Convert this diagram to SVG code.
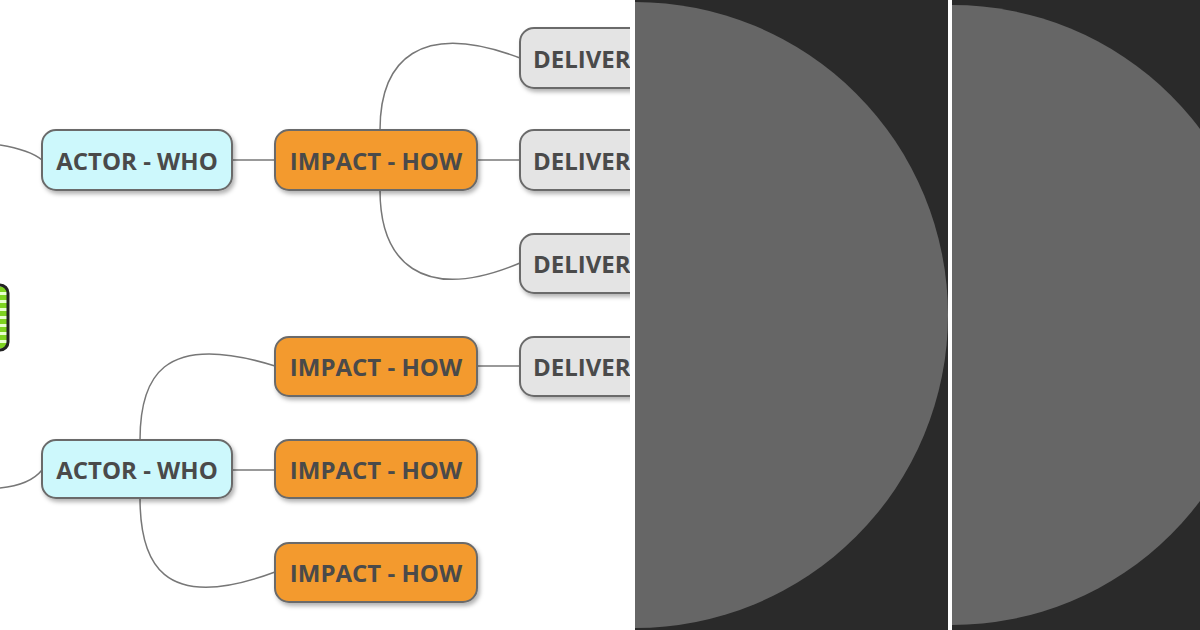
<svg xmlns="http://www.w3.org/2000/svg" width="1200" height="630" viewBox="0 0 1200 630">
<defs>
<style>
.n{stroke:#6b6b6b;stroke-width:2;filter:url(#sh)}
.t{font-family:"Open Sans","Noto Sans",sans-serif;font-weight:bold;font-size:24px;fill:#4a4a4a;dominant-baseline:central}
.c{fill:none;stroke:#777;stroke-width:1.5}
</style>
<filter id="sh" x="-10%" y="-20%" width="130%" height="150%"><feDropShadow dx="2" dy="3" stdDeviation="2" flood-color="#000" flood-opacity="0.3"/></filter>
<pattern id="st" width="10" height="8" patternUnits="userSpaceOnUse"><rect width="10" height="8" fill="#7ed321"/><rect y="4" width="10" height="3" fill="#e8ffd0"/></pattern>
<clipPath id="lp"><rect x="0" y="0" width="630" height="630"/></clipPath>
<clipPath id="p2"><rect x="952" y="0" width="248" height="630"/></clipPath>
</defs>
<rect width="1200" height="630" fill="#fff"/>
<g clip-path="url(#lp)">
<g id="connectors">
<path class="c" d="M0 145 Q30 150 42 160"/>
<path class="c" d="M0 488 Q30 485 42 470"/>
<path class="c" d="M232 160 H275"/>
<path class="c" d="M477 160 H520"/>
<path class="c" d="M380 130 C380 60 420 20 520 58"/>
<path class="c" d="M380 190 C380 260 420 305 520 263"/>
<path class="c" d="M477 366 H520"/>
<path class="c" d="M232 470 H275"/>
<path class="c" d="M140 440 C140 380 160 330 275 366"/>
<path class="c" d="M140 498 C140 560 160 615 275 572"/>
</g>
<g id="root"><rect x="-20" y="285" width="28" height="65" rx="8" fill="url(#st)" stroke="#222" stroke-width="3"/></g>
<g id="actor1"><rect class="n" x="42" y="130" width="190" height="60" rx="14" fill="#cdf8fc"/><text class="t" x="137" y="160" text-anchor="middle">ACTOR - WHO</text></g>
<g id="actor2"><rect class="n" x="42" y="440" width="190" height="58" rx="14" fill="#cdf8fc"/><text class="t" x="137" y="469" text-anchor="middle">ACTOR - WHO</text></g>
<g id="impact1"><rect class="n" x="275" y="130" width="202" height="60" rx="14" fill="#f39a2e"/><text class="t" x="376" y="160" text-anchor="middle">IMPACT - HOW</text></g>
<g id="impact2"><rect class="n" x="275" y="337" width="202" height="59" rx="14" fill="#f39a2e"/><text class="t" x="376" y="366" text-anchor="middle">IMPACT - HOW</text></g>
<g id="impact3"><rect class="n" x="275" y="440" width="202" height="58" rx="14" fill="#f39a2e"/><text class="t" x="376" y="469" text-anchor="middle">IMPACT - HOW</text></g>
<g id="impact4"><rect class="n" x="275" y="543" width="202" height="59" rx="14" fill="#f39a2e"/><text class="t" x="376" y="572" text-anchor="middle">IMPACT - HOW</text></g>
<g id="deliver1"><rect class="n" x="520" y="28" width="160" height="60" rx="14" fill="#e4e4e4"/><text class="t" x="533" y="58">DELIVERABLE</text></g>
<g id="deliver2"><rect class="n" x="520" y="130" width="160" height="60" rx="14" fill="#e4e4e4"/><text class="t" x="533" y="160">DELIVERABLE</text></g>
<g id="deliver3"><rect class="n" x="520" y="234" width="160" height="59" rx="14" fill="#e4e4e4"/><text class="t" x="533" y="263">DELIVERABLE</text></g>
<g id="deliver4"><rect class="n" x="520" y="337" width="160" height="59" rx="14" fill="#e4e4e4"/><text class="t" x="533" y="366">DELIVERABLE</text></g>
</g>
<rect x="635" y="0" width="313" height="630" fill="#2a2a2a"/>
<path d="M635 2 A313 313 0 0 1 635 628 Z" fill="#666"/>
<rect x="952" y="0" width="248" height="630" fill="#2a2a2a"/>
<path clip-path="url(#p2)" d="M952 5 A310 310 0 0 1 952 625 Z" fill="#666"/>
</svg>
